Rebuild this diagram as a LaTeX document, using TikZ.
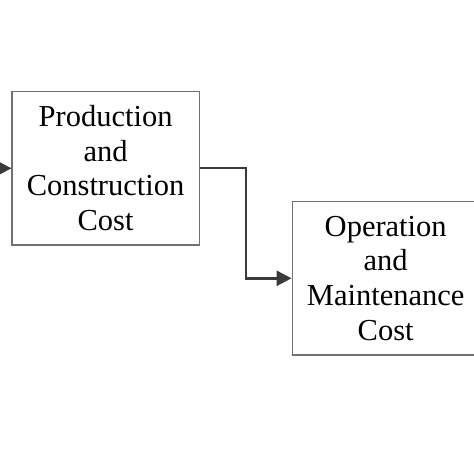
\documentclass[tikz,border=0pt]{standalone}
\usepackage{fontspec}
\setmainfont{Liberation Serif}
\usetikzlibrary{arrows.meta}
\definecolor{boxline}{HTML}{707070}
\definecolor{connline}{HTML}{3A3A3A}
\tikzset{
  costbox/.style={draw=boxline, line width=1.2bp, minimum width=187bp, minimum height=153.5bp,
    inner sep=0pt, align=center, font=\fontsize{30.5bp}{34.5bp}\selectfont, text=black},
  conn/.style={draw=connline, line width=2.4bp, -{Triangle[length=15bp,width=15bp]}}
}
\begin{document}
\begin{tikzpicture}[x=1bp,y=-1bp]
\useasboundingbox (0,0) rectangle (474,474);
\fill[white] (0,0) rectangle (474,474);
\node[costbox] (b1) at (105.6,168.3) {Production\\and\\Construction\\Cost};
\node[costbox] (b2) at (385.7,278.3) {Operation\\and\\Maintenance\\Cost};
\coordinate (in) at (-40,168.3);
\draw[conn] (in) -- (b1.west);
\draw[conn] (b1.east) -- ++(46,0) |- (b2.west);
\end{tikzpicture}
\end{document}
